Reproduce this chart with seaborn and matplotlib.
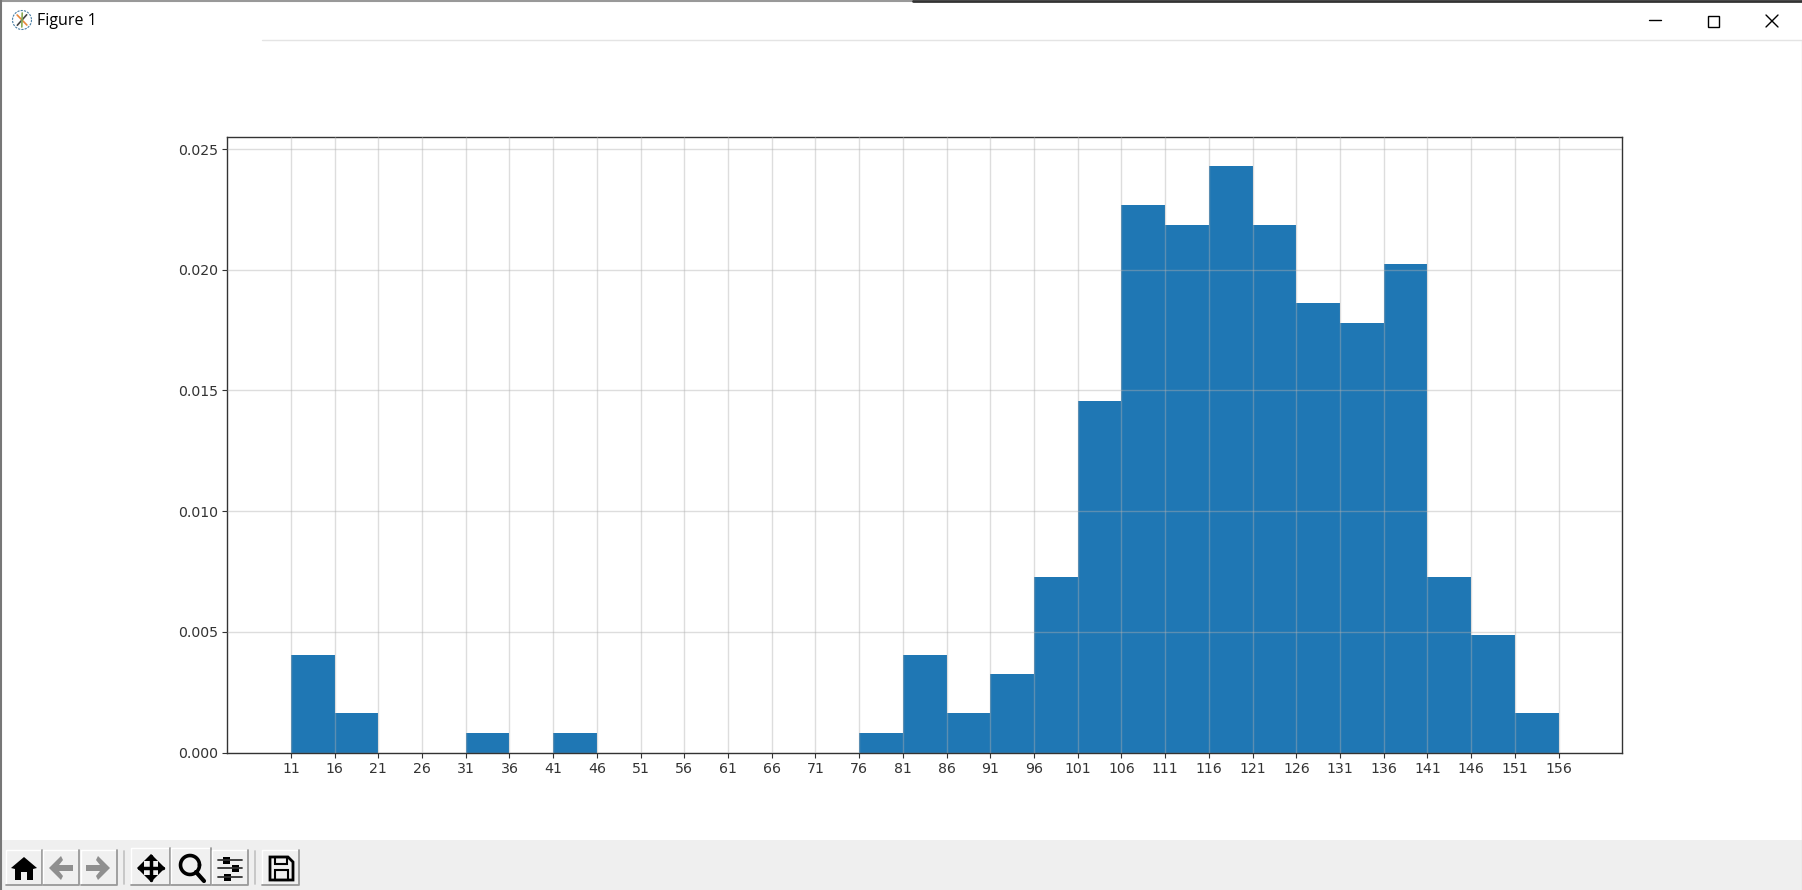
import numpy as np
import seaborn as sns
import matplotlib.pyplot as plt
from matplotlib.patches import Rectangle, Polygon

# bin left edges and counts (density = count / (247 * 5))
bin_starts = [11, 16, 21, 26, 31, 36, 41, 46, 51, 56, 61, 66, 71, 76, 81, 86, 91, 96,
              101, 106, 111, 116, 121, 126, 131, 136, 141, 146, 151]
counts = [5, 2, 0, 0, 1, 0, 1, 0, 0, 0, 0, 0, 0, 1, 5, 2, 4, 9,
          18, 28, 27, 30, 27, 23, 22, 25, 9, 6, 2]
x_ticks = [11, 16, 21, 26, 31, 36, 41, 46, 51, 56, 61, 66, 71, 76, 81, 86, 91, 96,
           101, 106, 111, 116, 121, 126, 131, 136, 141, 146, 151, 156]
y_ticks = [0.0, 0.005, 0.010, 0.015, 0.020, 0.025]

W, H = 1802, 890
sns.set_style("white")
plt.rcParams['font.family'] = ['DejaVu Sans']

fig = plt.figure(figsize=(W / 100, H / 100), dpi=100)
ax = fig.add_axes([227.5 / W, 1 - 752.5 / H, (1622 - 227.5) / W, (752.5 - 136.5) / H])

sns.histplot(x=bin_starts, weights=counts, bins=x_ticks, stat="density",
             color="#1f77b4", alpha=1, edgecolor="none", linewidth=0, ax=ax)
ax.set_xlim(3.75, 163.25)
ax.set_ylim(0, 0.02552)
ax.set_xticks(x_ticks)
ax.set_yticks(y_ticks)
ax.set_yticklabels([f"{v:.3f}" for v in y_ticks])
ax.set_xlabel("")
ax.set_ylabel("")
ax.tick_params(axis="both", labelsize=10.2, length=3.5, width=0.8, colors="#333333",
               left=True, bottom=True)
ax.grid(True, color="#b0b0b0", alpha=0.42, linewidth=1)
ax.set_axisbelow(False)
for s in ax.spines.values():
    s.set_visible(True)
    s.set_color("#333333")
    s.set_linewidth(1)


# window chrome, in pixel coords of the screenshot
def px_line(xs, ys, **kw):
    fig.add_artist(plt.Line2D([x / W for x in xs], [1 - y / H for y in ys], **kw))


def px_rect(x, y, w, h, **kw):
    fig.add_artist(Rectangle((x / W, 1 - (y + h) / H), w / W, h / H,
                             transform=fig.transFigure, **kw))


def px_poly(pts, **kw):
    fig.add_artist(Polygon([(x / W, 1 - y / H) for x, y in pts],
                           transform=fig.transFigure, **kw))


px_rect(0, 840, W, 50, fc="#efefef", ec="none")
px_line([0, 913], [0.5, 0.5], color="#999999", lw=1.5)
px_line([913, W], [0.5, 0.5], color="#333333", lw=2)
px_line([1, 1], [0, H], color="#777777", lw=1.5)
px_line([1801.5, 1801.5], [40, H], color="#dddddd", lw=1)
px_line([262, W], [40, 40], color="#e4e4e4", lw=1)

# title bar
fig.text(37 / W, 1 - 21 / H, "Figure 1", fontsize=11.5, va="center", color="black",
         family=["Open Sans", "DejaVu Sans"])
for r_col, ang in [("#e8873a", 0.8), ("#444444", 2.3), ("#88aa55", 1.6)]:
    px_line([22 - 7 * np.cos(ang), 22 + 7 * np.cos(ang)],
            [20 - 7 * np.sin(ang), 20 + 7 * np.sin(ang)], color=r_col, lw=1.2)
th = np.linspace(0, 2 * np.pi, 40)
px_line(22 + 9.5 * np.cos(th), 20 + 9.5 * np.sin(th), color="#4a7fa5", lw=0.8, ls=(0, (2, 1)))
px_line([1649, 1661], [20, 20], color="black", lw=1)
px_rect(1707.5, 15.5, 11, 11, fc="none", ec="black", lw=1)
px_line([1766, 1778], [15, 27], color="black", lw=1)
px_line([1766, 1778], [27, 15], color="black", lw=1)

# toolbar buttons
for bx, bw, by in [(6, 36, 850), (43, 36, 850), (81, 36, 850), (131, 39, 848),
                   (171, 40, 848), (212, 36, 850), (262, 37, 850)]:
    px_rect(bx, by, bw, 885 - by, fc="#f0f0f0", ec="none")
    px_line([bx, bx, bx + bw], [885, by, by], color="#ffffff", lw=1)
    px_line([bx, bx + bw, bx + bw], [885, 885, by], color="#999999", lw=1.3)
px_line([124, 124], [851, 884], color="#c4c4c4", lw=1.3)
px_line([255, 255], [851, 884], color="#c4c4c4", lw=1.3)

# home
px_poly([(11, 868), (24, 857), (37, 868), (33, 869), (33, 880), (27, 880), (27, 872),
         (21, 872), (21, 880), (15, 880), (15, 869)], fc="black", ec="none")
# back / forward, greyed out
px_poly([(49, 868), (61, 856), (63, 860), (59, 865), (73, 865), (73, 871), (59, 871),
         (63, 876), (61, 880)], fc="#8f8f8f", ec="none")
px_poly([(110, 868), (98, 856), (96, 860), (100, 865), (86, 865), (86, 871), (100, 871),
         (96, 876), (98, 880)], fc="#8f8f8f", ec="none")
# pan
px_line([139, 163], [868, 868], color="black", lw=2.5)
px_line([151, 151], [856, 880], color="black", lw=2.5)
for pts in [[(137, 868), (144, 861), (144, 875)], [(165, 868), (158, 861), (158, 875)],
            [(151, 854), (144, 861), (158, 861)], [(151, 882), (144, 875), (158, 875)]]:
    px_poly(pts, fc="black", ec="none")
# zoom
px_line(190 + 9.5 * np.cos(th), 865 + 9.5 * np.sin(th), color="black", lw=2.6)
px_line([196, 204], [872, 881], color="black", lw=3)
# subplots
for yy, xx in [(860, 226), (868, 236), (877, 227)]:
    px_line([218, 242], [yy, yy], color="#333333", lw=1.3)
    px_rect(xx - 3.5, yy - 3.5, 7, 7, fc="black", ec="none")
# save
px_poly([(270, 857), (288, 857), (293, 862), (293, 880), (270, 880)], fc="none", ec="black", lw=2)
px_rect(275, 857, 12, 7, fc="none", ec="black", lw=1.5)
px_rect(275, 870, 13, 10, fc="none", ec="black", lw=1.5)

fig.savefig("out.png", dpi=100)
